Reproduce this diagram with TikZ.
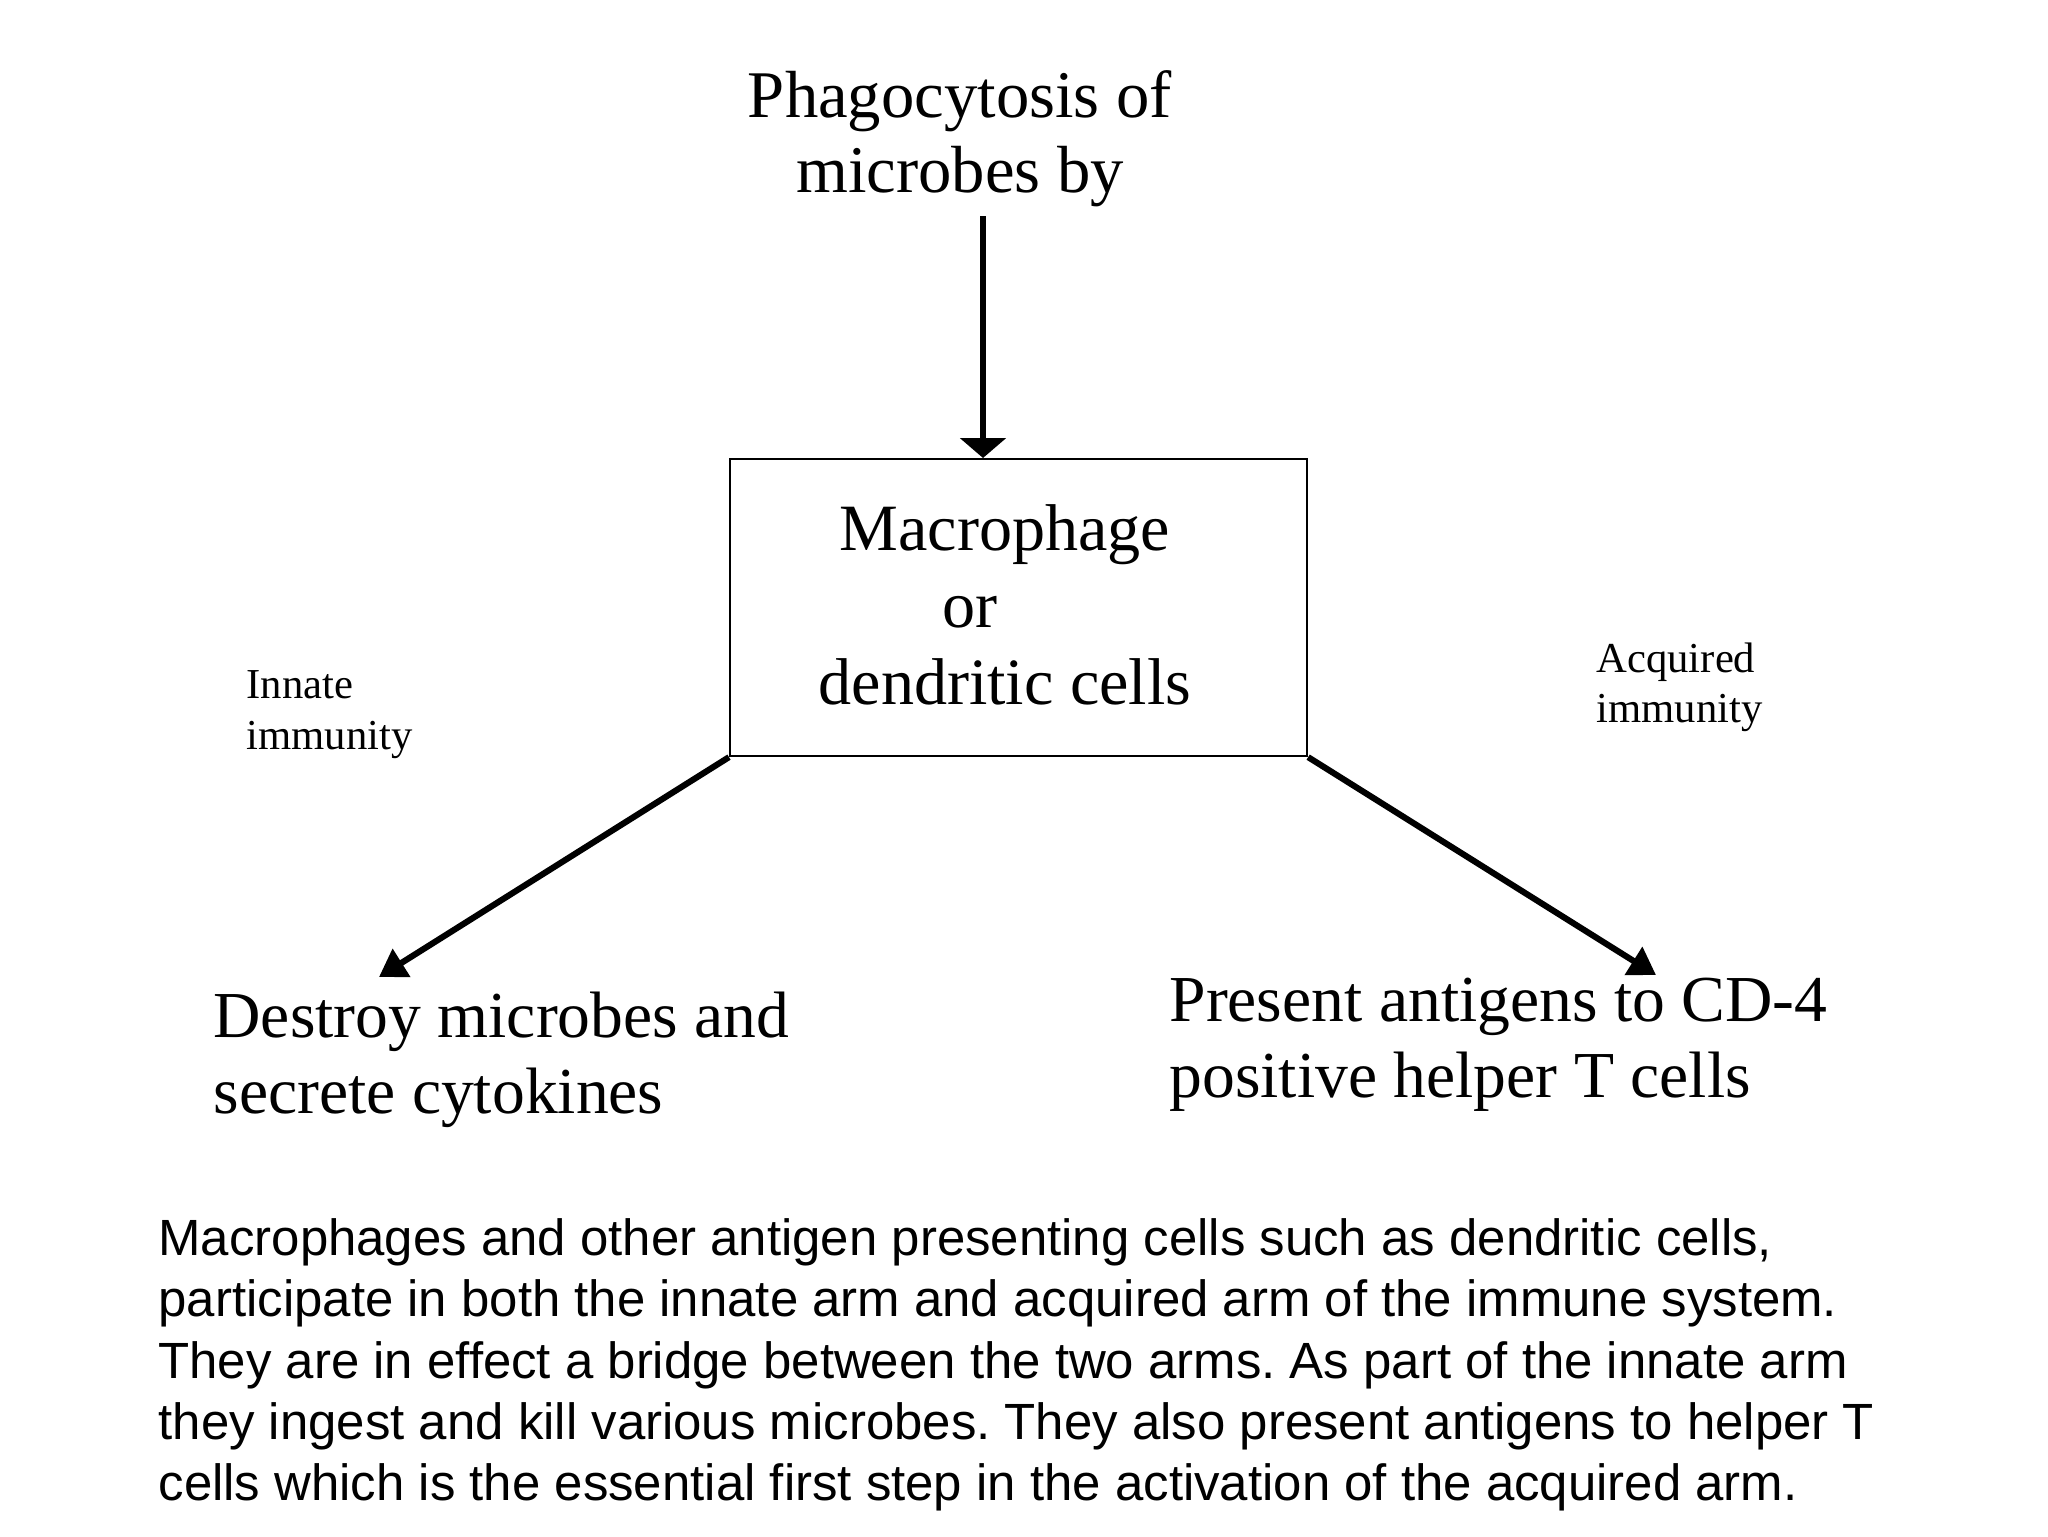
\documentclass[tikz,border=0pt]{standalone}
\usepackage{fontspec}
\setmainfont{Liberation Serif}
\newfontfamily\arialf{Liberation Sans}
\usetikzlibrary{arrows.meta}
\frenchspacing
\tikzset{
  lbl/.style={inner sep=0pt, align=left},
  big/.style={font=\fontsize{24.6pt}{28.5pt}\selectfont},
  small/.style={font=\fontsize{16pt}{19pt}\selectfont},
  conn/.style={line width=2.3pt, -{Triangle[width=12pt,length=10pt]}},
}
\begin{document}
\begin{tikzpicture}[x=0.375pt,y=-0.375pt]
\useasboundingbox (0,0) rectangle (2048,1536);
\fill[white] (0,0) rectangle (2048,1536);
% top text
\node[inner sep=0pt, align=center, anchor=north, font=\fontsize{25pt}{28pt}\selectfont] (phago) at (960,70) {Phagocytosis of\\microbes by};
% box
\node[draw, line width=0.8pt, minimum width=577*0.375pt, minimum height=297*0.375pt, inner sep=0pt, anchor=north west] (apc) at (729,458) {};
\node[inner sep=0pt, align=center, big, font=\fontsize{24.8pt}{29pt}\selectfont] (apctxt) at (1005,605) {Macrophage\\or\rule{26pt}{0pt}\\dendritic cells};
% labels
\node[lbl, small, anchor=north west] (innate) at (246,670) {Innate\\immunity};
\node[lbl, small, anchor=north west] (acq) at (1596,642) {Acquired\\immunity};
\node[lbl, big, anchor=north west] (destroy) at (213,991) {Destroy microbes and\\secrete cytokines};
\node[lbl, big, anchor=north west] (present) at (1169,978) {Present antigens to CD-4\\positive helper T cells};
% connectors
\coordinate (atop) at (983,216);
\coordinate (ltip) at (379,977);
\coordinate (rtip) at (1656,975);
\draw[line width=2.6pt, -{Triangle[width=17pt,length=7.5pt]}] (atop) -- (atop |- apc.north);
\draw[conn] (apc.south west) -- (ltip);
\draw[conn] (apc.south east) -- (rtip);
% paragraph
\node[lbl, anchor=north west, font=\arialf\fontsize{19.1pt}{23pt}\selectfont] (para) at (158,1218) {Macrophages and other antigen presenting cells such as dendritic cells,\\participate in both the innate arm and acquired arm of the immune system.\\They are in effect a bridge between the two arms. As part of the innate arm\\they ingest and kill various microbes. They also present antigens to helper T\\cells which is the essential first step in the activation of the acquired arm.};
\end{tikzpicture}
\end{document}
